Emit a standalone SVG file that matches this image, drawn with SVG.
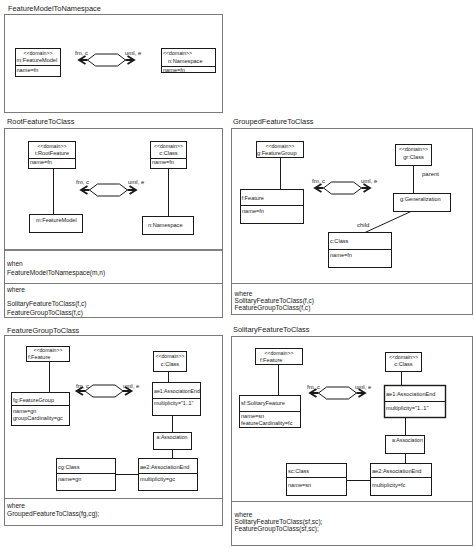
<svg xmlns="http://www.w3.org/2000/svg" width="474" height="548" viewBox="0 0 474 548">
<style>
.frame{fill:none;stroke:#7a7a7a;stroke-width:1}
.div{stroke:#7a7a7a;stroke-width:1}
.div2{stroke:#5a5a5a;stroke-width:1.6}
.box{fill:#fff;stroke:#1a1a1a;stroke-width:1}
.ln{stroke:#1a1a1a;stroke-width:1;fill:none}
text{font-family:"Liberation Sans",Arial,sans-serif;fill:#1a1a1a}
.t{font-size:5.6px}
.s{font-size:5.2px}
.lb{font-size:6px}
.ti{font-size:7.4px}
.w{font-size:6.6px}
.hex{fill:#fff;stroke:#1a1a1a;stroke-width:1}
.arr{fill:none;stroke:#1a1a1a;stroke-width:1.8;stroke-linejoin:miter}
</style>
<defs>
<g id="rel">
<polygon class="hex" points="-19,0 -11,-6 11,-6 19,0 11,6 -11,6"/>
<path class="arr" d="M-21,-4 L-27.5,0 L-21,4 M-27.5,0 L-19,0"/>
<path class="arr" d="M21,-4 L27.5,0 L21,4 M27.5,0 L19,0"/>
</g>
</defs>
<rect width="474" height="548" fill="#fff"/>

<!-- Panel 1 -->
<g id="p1">
<text class="ti" x="8" y="11">FeatureModelToNamespace</text>
<rect class="frame" x="4.5" y="14.5" width="218" height="98"/>
</g>
<g id="p1-featuremodel">
<rect class="box" x="15.5" y="48.5" width="45" height="28"/>
<line class="ln" x1="15.5" y1="65.5" x2="60.5" y2="65.5"/>
<text class="s" x="38" y="55" text-anchor="middle">&lt;&lt;domain&gt;&gt;</text>
<text class="t" x="16.5" y="62">m:FeatureModel</text>
<text class="t" x="16.5" y="72">name=fn</text>
</g>
<g id="p1-namespace">
<rect class="box" x="161.5" y="48.5" width="54" height="24"/>
<line class="ln" x1="161.5" y1="66.5" x2="215.5" y2="66.5"/>
<text class="s" x="163" y="55">&lt;&lt;domain&gt;&gt;</text>
<text class="t" x="168" y="63">n:Namespace</text>
<text class="t" x="163" y="71.5">name=fn</text>
</g>
<g id="p1-rel">
<use href="#rel" transform="translate(106.5,60)"/>
<text class="lb" x="75" y="55">fm, c</text>
<text class="lb" x="125" y="55">uml, e</text>
</g>

<!-- Panel 2 -->
<g id="p2">
<text class="ti" x="7" y="124">RootFeatureToClass</text>
<rect class="frame" x="4.5" y="128.5" width="218" height="189"/>
<line class="div2" x1="4.5" y1="250" x2="222.5" y2="250"/>
<line class="div" x1="4.5" y1="283.5" x2="222.5" y2="283.5"/>
<text class="w" x="7" y="266">when</text>
<text class="w" x="7" y="275">FeatureModelToNamespace(m,n)</text>
<text class="w" x="7" y="292">where</text>
<text class="w" x="7" y="306">SolitaryFeatureToClass(f,c)</text>
<text class="w" x="7" y="315">FeatureGroupToClass(f,c)</text>
</g>
<g id="p2-connectors">
<line class="ln" x1="53.5" y1="169" x2="53.5" y2="214"/>
<line class="ln" x1="168.5" y1="169" x2="168.5" y2="216"/>
</g>
<g id="p2-rootfeature">
<rect class="box" x="28.5" y="141.5" width="47" height="27"/>
<line class="ln" x1="28.5" y1="158.5" x2="75.5" y2="158.5"/>
<text class="s" x="52" y="147.5" text-anchor="middle">&lt;&lt;domain&gt;&gt;</text>
<text class="t" x="52" y="155" text-anchor="middle">t:RootFeature</text>
<text class="t" x="30" y="164">name=fn</text>
</g>
<g id="p2-featuremodel">
<rect class="box" x="29.5" y="214.5" width="53" height="18"/>
<text class="t" x="36" y="222">m:FeatureModel</text>
</g>
<g id="p2-class">
<rect class="box" x="150.5" y="141.5" width="36" height="27"/>
<line class="ln" x1="150.5" y1="158.5" x2="186.5" y2="158.5"/>
<text class="s" x="168.5" y="147.5" text-anchor="middle">&lt;&lt;domain&gt;&gt;</text>
<text class="t" x="168.5" y="155" text-anchor="middle">c:Class</text>
<text class="t" x="152" y="164">name=fn</text>
</g>
<g id="p2-namespace">
<rect class="box" x="142.5" y="216.5" width="51" height="18"/>
<text class="t" x="148" y="227">n:Namespace</text>
</g>
<g id="p2-rel">
<use href="#rel" transform="translate(108.5,190)"/>
<text class="lb" x="76" y="184">fm, c</text>
<text class="lb" x="128" y="184">uml, e</text>
</g>

<!-- Panel 3 -->
<g id="p3">
<text class="ti" x="233" y="124">GroupedFeatureToClass</text>
<rect class="frame" x="231.5" y="128.5" width="241" height="186"/>
<line class="div" x1="231.5" y1="283.5" x2="472.5" y2="283.5"/>
<text class="w" x="234.5" y="295.5">where</text>
<text class="w" x="234.5" y="302.7">SolitaryFeatureToClass(f,c)</text>
<text class="w" x="234.5" y="310">FeatureGroupToClass(f,c)</text>
</g>
<g id="p3-connectors">
<line class="ln" x1="280.5" y1="157" x2="280.5" y2="189"/>
<line class="ln" x1="413.5" y1="165" x2="413.5" y2="193"/>
<line class="ln" x1="412" y1="211" x2="365" y2="232.5"/>
<text class="lb" x="422" y="176">parent</text>
<text class="lb" x="357" y="227">child</text>
</g>
<g id="p3-featuregroup">
<rect class="box" x="256.5" y="141.5" width="47" height="16"/>
<text class="s" x="280" y="147.5" text-anchor="middle">&lt;&lt;domain&gt;&gt;</text>
<text class="t" x="257" y="155">g:FeatureGroup</text>
</g>
<g id="p3-feature">
<rect class="box" x="240.5" y="189.5" width="63" height="34"/>
<line class="ln" x1="240.5" y1="205.5" x2="303.5" y2="205.5"/>
<text class="t" x="241.5" y="200">f:Feature</text>
<text class="t" x="242" y="213">name=fn</text>
</g>
<g id="p3-grclass">
<rect class="box" x="395.5" y="144.5" width="36" height="21"/>
<text class="s" x="413.5" y="151" text-anchor="middle">&lt;&lt;domain&gt;&gt;</text>
<text class="t" x="413.5" y="158.5" text-anchor="middle">gr:Class</text>
</g>
<g id="p3-generalization">
<rect class="box" x="393.5" y="193.5" width="57" height="18"/>
<text class="t" x="400" y="201">g:Generalization</text>
</g>
<g id="p3-class">
<rect class="box" x="328.5" y="232.5" width="63" height="35"/>
<line class="ln" x1="328.5" y1="249.5" x2="391.5" y2="249.5"/>
<text class="t" x="330" y="243">c:Class</text>
<text class="t" x="330" y="257">name=fn</text>
</g>
<g id="p3-rel">
<use href="#rel" transform="translate(342.5,188)"/>
<text class="lb" x="312" y="183">fm, c</text>
<text class="lb" x="361" y="183">uml, e</text>
</g>

<!-- Panel 4 -->
<g id="p4">
<text class="ti" x="7" y="333">FeatureGroupToClass</text>
<rect class="frame" x="4.5" y="335.5" width="218" height="190"/>
<line class="div" x1="4.5" y1="498.5" x2="222.5" y2="498.5"/>
<text class="w" x="7" y="508">where</text>
<text class="w" x="7" y="516">GroupedFeatureToClass(fg,cg);</text>
</g>
<g id="p4-connectors">
<line class="ln" x1="49.5" y1="361" x2="49.5" y2="392"/>
<line class="ln" x1="168.5" y1="371" x2="168.5" y2="382"/>
<line class="ln" x1="172.5" y1="415" x2="172.5" y2="432"/>
<line class="ln" x1="172.5" y1="449" x2="172.5" y2="458"/>
<line class="ln" x1="115" y1="474.5" x2="138" y2="474.5"/>
</g>
<g id="p4-feature">
<rect class="box" x="26.5" y="346.5" width="43" height="15"/>
<text class="s" x="48" y="352" text-anchor="middle">&lt;&lt;domain&gt;&gt;</text>
<text class="t" x="28" y="359">f:Feature</text>
</g>
<g id="p4-featuregroup">
<rect class="box" x="11.5" y="392.5" width="58" height="33"/>
<line class="ln" x1="11.5" y1="405.5" x2="69.5" y2="405.5"/>
<text class="t" x="13" y="401.5">fg:FeatureGroup</text>
<text class="t" x="13" y="413">name=gn</text>
<text class="t" x="13" y="420">groupCardinality=gc</text>
</g>
<g id="p4-class">
<rect class="box" x="153.5" y="351.5" width="33" height="20"/>
<text class="s" x="170" y="358" text-anchor="middle">&lt;&lt;domain&gt;&gt;</text>
<text class="t" x="170" y="365.5" text-anchor="middle">c:Class</text>
</g>
<g id="p4-ae1">
<rect class="box" x="152.5" y="382.5" width="48" height="33"/>
<line class="ln" x1="152.5" y1="398.5" x2="200.5" y2="398.5"/>
<text class="s" x="154" y="392.5">ae1:AssociationEnd</text>
<text class="s" x="154" y="405">multiplicity="1..1"</text>
</g>
<g id="p4-association">
<rect class="box" x="153.5" y="432.5" width="38" height="17"/>
<text class="s" x="172" y="439" text-anchor="middle">a:Association</text>
</g>
<g id="p4-ae2">
<rect class="box" x="138.5" y="458.5" width="59" height="32"/>
<line class="ln" x1="138.5" y1="473.5" x2="197.5" y2="473.5"/>
<text class="t" x="140" y="468.5">ae2:AssociationEnd</text>
<text class="t" x="140" y="481">multiplicity=gc</text>
</g>
<g id="p4-cgclass">
<rect class="box" x="56.5" y="458.5" width="59" height="32"/>
<line class="ln" x1="56.5" y1="473.5" x2="115.5" y2="473.5"/>
<text class="t" x="58" y="468.5">cg:Class</text>
<text class="t" x="58" y="481">name=gn</text>
</g>
<g id="p4-rel">
<use href="#rel" transform="translate(104,391)"/>
<text class="lb" x="76" y="388">fm, c</text>
<text class="lb" x="123" y="388">uml, e</text>
</g>

<!-- Panel 5 -->
<g id="p5">
<text class="ti" x="233" y="332">SolitaryFeatureToClass</text>
<rect class="frame" x="231.5" y="336.5" width="241" height="209"/>
<line class="div" x1="231.5" y1="501.5" x2="472.5" y2="501.5"/>
<text class="w" x="234.5" y="517">where</text>
<text class="w" x="234.5" y="524">SolitaryFeatureToClass(sf,sc);</text>
<text class="w" x="234.5" y="531">FeatureGroupToClass(sf,sc);</text>
</g>
<g id="p5-connectors">
<line class="ln" x1="278.5" y1="364" x2="278.5" y2="395"/>
<line class="ln" x1="401.5" y1="371" x2="401.5" y2="385"/>
<line class="ln" x1="405.5" y1="417" x2="405.5" y2="435"/>
<line class="ln" x1="405.5" y1="453" x2="405.5" y2="463"/>
<line class="ln" x1="346" y1="480.5" x2="370" y2="480.5"/>
</g>
<g id="p5-feature">
<rect class="box" x="255.5" y="348.5" width="47" height="16"/>
<text class="s" x="279" y="354.5" text-anchor="middle">&lt;&lt;domain&gt;&gt;</text>
<text class="t" x="260" y="361.5">f:Feature</text>
</g>
<g id="p5-solitary">
<rect class="box" x="239.5" y="395.5" width="61" height="32"/>
<line class="ln" x1="239.5" y1="411.5" x2="300.5" y2="411.5"/>
<text class="t" x="241" y="404.5">sf:SolitaryFeature</text>
<text class="t" x="241" y="418">name=sn</text>
<text class="t" x="241" y="424.5">featureCardinality=fc</text>
</g>
<g id="p5-class">
<rect class="box" x="385.5" y="352.5" width="36" height="19"/>
<text class="s" x="403.5" y="358.5" text-anchor="middle">&lt;&lt;domain&gt;&gt;</text>
<text class="t" x="403.5" y="366" text-anchor="middle">c:Class</text>
</g>
<g id="p5-ae1">
<rect class="box" x="384.5" y="385.5" width="61" height="32" style="stroke-width:1.4"/>
<line class="ln" x1="384.5" y1="401.5" x2="445.5" y2="401.5"/>
<text class="t" x="386" y="395.5">ae1:AssociationEnd</text>
<text class="t" x="386" y="409.5">multiplicity="1..1"</text>
</g>
<g id="p5-association">
<rect class="box" x="385.5" y="435.5" width="39" height="18"/>
<text class="s" x="392" y="442">a:Association</text>
</g>
<g id="p5-ae2">
<rect class="box" x="370.5" y="463.5" width="61" height="32"/>
<line class="ln" x1="370.5" y1="477.5" x2="431.5" y2="477.5"/>
<text class="t" x="372" y="472.5">ae2:AssociationEnd</text>
<text class="t" x="372" y="486.5">multiplicity=fc</text>
</g>
<g id="p5-scclass">
<rect class="box" x="286.5" y="463.5" width="60" height="32"/>
<line class="ln" x1="286.5" y1="477.5" x2="346.5" y2="477.5"/>
<text class="t" x="288" y="472.5">sc:Class</text>
<text class="t" x="288" y="486.5">name=sn</text>
</g>
<g id="p5-rel">
<use href="#rel" transform="translate(337.5,393)"/>
<text class="lb" x="307" y="389">fm, c</text>
<text class="lb" x="355" y="389">uml, e</text>
</g>
</svg>
